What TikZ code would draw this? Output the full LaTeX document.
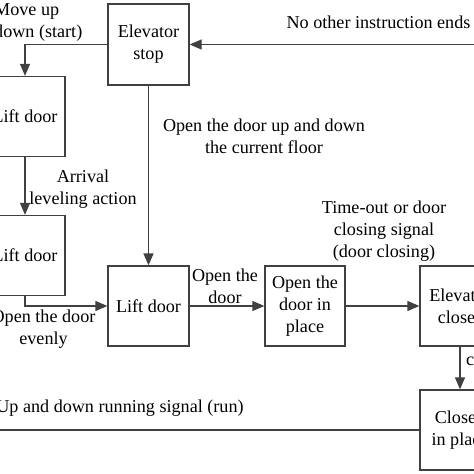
\documentclass[tikz,border=0pt]{standalone}
\usepackage{fontspec}
\setmainfont{Liberation Serif}
\usetikzlibrary{arrows.meta}
\begin{document}
\begin{tikzpicture}[x=1bp,y=-1bp,
  box/.style={draw=black!75,line width=1.3bp,minimum width=80bp,minimum height=80bp,align=center,inner sep=0pt,font=\fontsize{18.2}{22}\selectfont},
  lbl/.style={align=center,inner sep=0pt,font=\fontsize{18.2}{22}\selectfont},
  conn/.style={draw=black!75,line width=1.3bp},
  arr/.style={conn,-{Triangle[length=12bp,width=10bp]}}]
\useasboundingbox (0,0) rectangle (474,474);
\clip (0,0) rectangle (474,474);
\fill[white] (0,0) rectangle (474,474);
\node[box,minimum width=81bp,minimum height=81bp] (stop) at (148.5,44.5) {Elevator\\stop};
\node[box] (door1) at (25,116.5) {Lift door};
\node[box] (door2) at (25,255.5) {Lift door};
\node[box,minimum width=81bp] (door3) at (148.5,306) {Lift door};
\node[box] (inplace) at (305,306) {Open the\\door in\\place};
\node[box] (close) at (460,306) {Elevator\\closes};
\node[box] (closed) at (460,430) {Closed\\in place};
\coordinate (rin) at (480,44.5);
\coordinate (lout) at (-5,430);
\draw[arr] (rin) -- (stop.east);
\draw[arr] (stop.west) -| (door1.north);
\draw[arr] (door1.south) -- (door2.north);
\draw[arr] (door2.south) |- (door3.west);
\draw[arr] (stop.south) -- (door3.north);
\draw[arr] (door3.east) -- (inplace.west);
\draw[arr] (inplace.east) -- (close.west);
\draw[arr] (close.south) -- (closed.north);
\draw[conn] (closed.west) -- (lout);
\node[lbl,align=left,anchor=west] (l1) at (-6,22.5) {Move up\\down (start)};
\node[lbl] (l2) at (378.5,22) {No other instruction ends};
\node[lbl] (l3) at (264,136.5) {Open the door up and down\\the current floor};
\node[lbl] (l4) at (83,189.5) {Arrival\\leveling action};
\node[lbl] (l5) at (43.5,329.5) {Open the door\\evenly};
\node[lbl] (l6) at (225,286) {Open the\\door};
\node[lbl] (l7) at (384,231) {Time-out or door\\closing signal\\(door closing)};
\node[lbl,anchor=west] (l8) at (466,359) {close};
\node[lbl] (l9) at (120,408) {Up and down running signal (run)};
\end{tikzpicture}
\end{document}
